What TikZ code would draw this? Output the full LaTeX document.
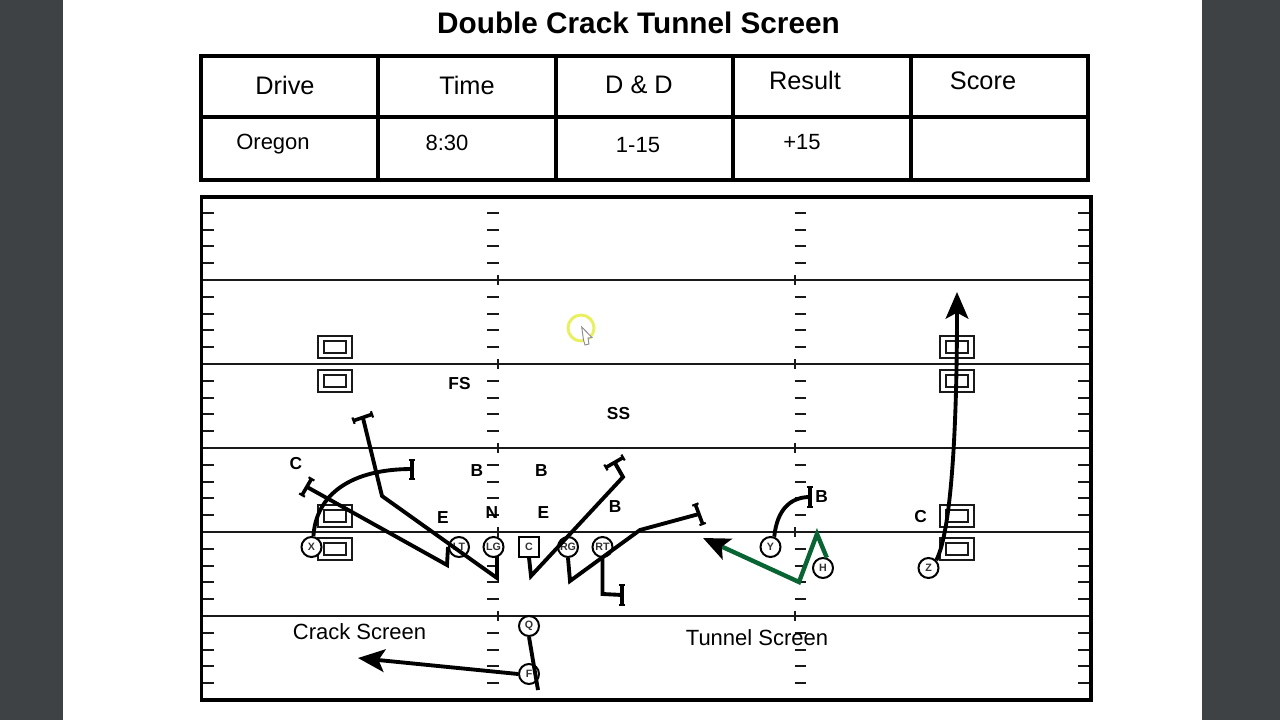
\documentclass[tikz,border=0pt]{standalone}
\usepackage{fontspec}
\setmainfont{Liberation Sans}
\usetikzlibrary{arrows.meta}
\definecolor{pagedark}{RGB}{62,66,69}
\definecolor{screengreen}{RGB}{8,100,50}
\definecolor{ringyellow}{RGB}{232,240,96}
\tikzset{
  player/.style={circle,draw,fill=white,line width=1.5pt,minimum size=15pt,inner sep=0pt,font=\bfseries\fontsize{8}{9}\selectfont,text=black!80},
  center/.style={rectangle,draw,fill=white,line width=1.5pt,minimum size=14.5pt,inner sep=0pt,font=\bfseries\fontsize{8}{9}\selectfont,text=black!80},
  defender/.style={inner sep=0pt,font=\bfseries\fontsize{13}{15}\selectfont,text=black},
  head/.style={inner sep=0pt,font=\fontsize{19}{22}\selectfont,text=black},
  entry/.style={inner sep=0pt,font=\fontsize{16.5}{20}\selectfont,text=black},
  routeline/.style={line width=2.9pt,line join=miter},
  blockbar/.style={line width=2.7pt,{Bar[width=5pt,line width=1.6pt]}-{Bar[width=5pt,line width=1.6pt]}},
  bighead/.style={-{Stealth[length=20pt,width=17pt,inset=4.5pt,black]}},
  yardline/.style={line width=1.3pt,black!90},
  tick/.style={line width=1.5pt,black!90},
  markbox/.style={line width=1.4pt,black!90}
}
\begin{document}
\begin{tikzpicture}[x=0.75pt,y=0.75pt,yscale=-1,xscale=1]
    \useasboundingbox (0,0) rectangle (1280,720);
    %Shape: page
    \fill [pagedark] (0,0) rectangle (1280,720);
    \fill [white] (63,0) rectangle (1202,720);

    %Title
    \node [inner sep=0pt,font=\bfseries\fontsize{22.3}{25}\selectfont,text=black] (title) at (638.5,23) {Double Crack Tunnel Screen};

    %Shape: table
    \draw [line width=2.3pt] (201,56) rectangle (1088,180);
    \draw [line width=2.3pt] (201,117) -- (1088,117);
    \foreach \x in {378,556,733,911} {
      \draw [line width=2.3pt] (\x,56) -- (\x,180);
    }
    \node [head] (drive) at (285,85) {Drive};
    \node [head] (time) at (467,85) {Time};
    \node [head] (dd) at (639,85) {D \& D};
    \node [head] (result) at (805,80) {Result};
    \node [head] (score) at (983,81) {Score};
    \node [entry] (oregon) at (273,144) {Oregon};
    \node [entry] (clock) at (447,143) {8:30};
    \node [entry] (down) at (638,145) {1-15};
    \node [entry] (gain) at (802,142) {+15};

    %Shape: field
    \foreach \y in {280,364,448,532,616} {
      \draw [yardline] (201,\y) -- (1091,\y);
      \draw [tick] (498,\y-5) -- (498,\y+5);
      \draw [tick] (795,\y-5) -- (795,\y+5);
    }
    \foreach \i in {1,...,29} {
      \pgfmathtruncatemacro{\rest}{mod(\i,5)}
      \ifnum\rest>0
        \pgfmathtruncatemacro{\y}{round(196+16.8*\i)}
        \draw [tick] (201,\y) -- (214,\y);
        \draw [tick] (487,\y) -- (498.5,\y);
        \draw [tick] (794.5,\y) -- (806,\y);
        \draw [tick] (1078,\y) -- (1091,\y);
      \fi
    }
    \draw [line width=2.7pt] (201.5,197) rectangle (1091,700);

    %Shape: receiver marks
    \foreach \x in {335,957} {
      \foreach \y in {347,381,516,549} {
        \draw [markbox] (\x-17,\y-11) rectangle (\x+17,\y+11);
        \draw [markbox] (\x-11,\y-6) rectangle (\x+11,\y+6);
      }
    }

    %Shape: cursor
    \draw [ringyellow,line width=2.2pt] (581,328) circle (13);
    \draw [black!45,fill=white,line width=0.7pt] (581.7,327) -- (592,337.5) -- (588,338) -- (589,344) -- (585,345) -- (583.5,340) -- cycle;

    %Defense
    \node [defender] (fs) at (459.5,384) {FS};
    \node [defender] (ss) at (618.5,414) {SS};
    \node [defender] (cleft) at (296,464) {C};
    \node [defender] (bone) at (477,471) {B};
    \node [defender] (btwo) at (541.5,471) {B};
    \node [defender] (eleft) at (443,518) {E};
    \node [defender] (nose) at (492,513) {N};
    \node [defender] (eright) at (543.5,513) {E};
    \node [defender] (bthree) at (615,507) {B};
    \node [defender] (bfour) at (821.5,497) {B};
    \node [defender] (cright) at (920.5,517) {C};

    %Offense
    \node [player] (X) at (311.5,547) {X};
    \node [player] (LT) at (459,547) {LT};
    \node [player] (LG) at (493.5,547) {LG};
    \node [center] (C) at (529,547) {C};
    \node [player] (RG) at (568,547) {RG};
    \node [player] (RT) at (602.5,547) {RT};
    \node [player] (Y) at (770.5,547) {Y};
    \node [player] (H) at (823,568) {H};
    \node [player] (Z) at (928.5,568) {Z};
    \node [player] (Q) at (529,626) {Q};
    \node [player] (F) at (529,674) {F};

    %Route ends
    \coordinate (xend) at (412,469);
    \coordinate (ltend) at (307,487);
    \coordinate (lgend) at (363,418);
    \coordinate (cend) at (615,463);
    \coordinate (rgend) at (699,514);
    \coordinate (rtend) at (622,595);
    \coordinate (yend) at (810,497);
    \coordinate (zend) at (957,292);
    \coordinate (qend) at (538,690);
    \coordinate (fend) at (358,658);
    \coordinate (hend) at (703,538);

    %Straight Lines
    \draw [routeline] (LT.west) -- (447,565) -- (ltend);
    \draw [routeline] (497,556) -- (497,578) -- (382,496) -- (lgend);
    \draw [routeline] (C.south) -- (531,576) -- (623,477) -- (cend);
    \draw [routeline] (RG.south) -- (570,581) -- (640,530) -- (rgend);
    \draw [routeline] (RT.south) -- (602.5,594) -- (rtend);
    \draw [routeline] (Q.south) -- (qend);
    \draw [routeline,bighead] (F.west) -- (fend);
    \draw [routeline,screengreen,line width=3.3pt,bighead] (H.70) -- (817,534) -- (799,582) -- (hend);

    %Curves
    \draw [routeline] (X.80) .. controls (316,495) and (350,469) .. (xend);
    \draw [routeline] (Y.70) .. controls (777,510) and (790,497) .. (yend);
    \draw [routeline,bighead] (Z.north east) .. controls (952,530) and (957,420) .. (zend);

    %Blocks
    \draw [blockbar] (412,458.5) -- (412,480);
    \draw [blockbar] (301.5,496) -- (312,478);
    \draw [blockbar] (352.5,421) -- (373,414);
    \draw [blockbar] (605,468) -- (624,457);
    \draw [blockbar] (695,503.5) -- (703,525);
    \draw [blockbar] (622,584) -- (622,606);
    \draw [blockbar] (810,486) -- (810,508);

    %Labels
    \node [entry] (crack) at (359.5,632) {Crack Screen};
    \node [entry] (tunnel) at (757,638) {Tunnel Screen};
\end{tikzpicture}
\end{document}
